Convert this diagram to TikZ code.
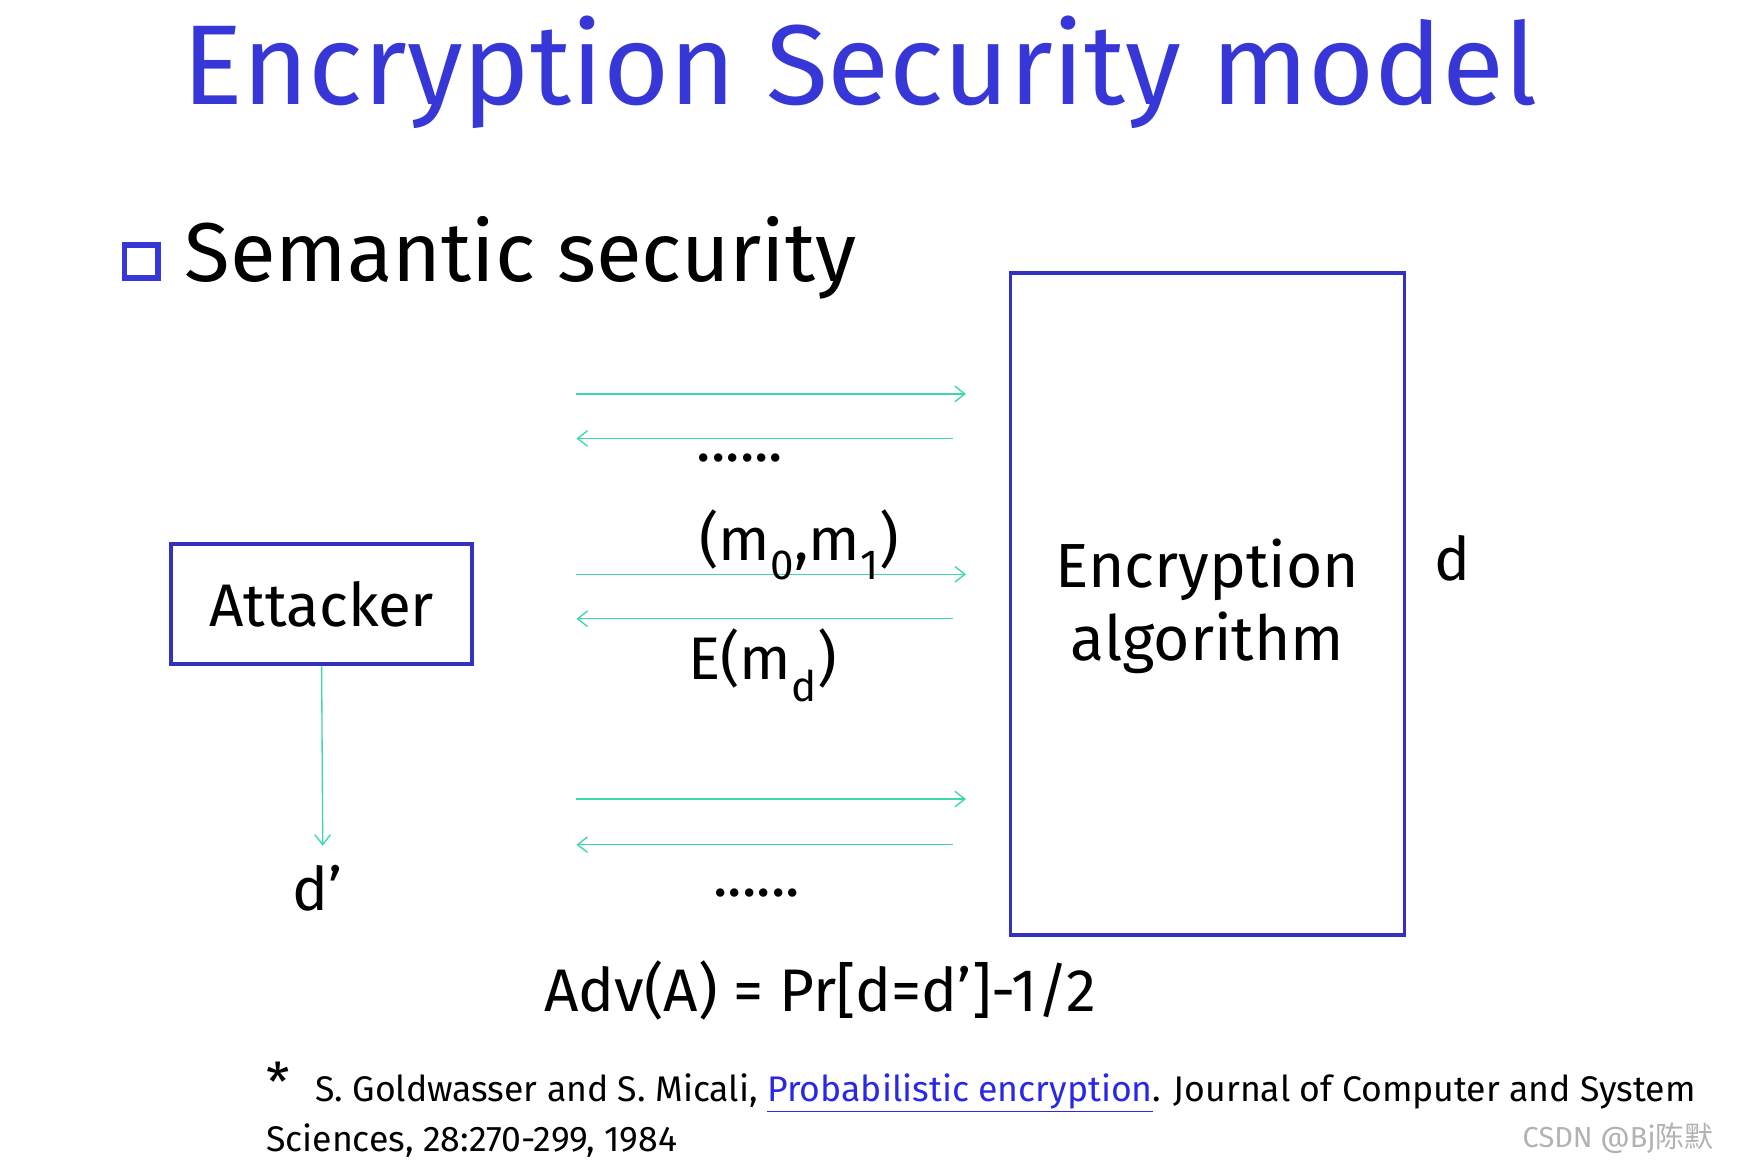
\documentclass[tikz,border=0pt]{standalone}
\usetikzlibrary{arrows.meta}
\usepackage{fontspec}
\setmainfont{Fira Sans}
\newfontfamily\cjk{Noto Sans CJK SC}
\definecolor{tblue}{RGB}{55,55,215}
\definecolor{bblue}{RGB}{50,50,190}
\definecolor{teal1}{RGB}{60,215,175}
\definecolor{lnk}{RGB}{40,40,230}
\begin{document}
\begin{tikzpicture}[x=1pt,y=-1pt,
  box/.style={draw=bblue,line width=3.5pt},
  arr/.style={draw=teal1,line width=1.2pt,-{Straight Barb[length=9pt,width=14pt]}},
  txt/.style={inner sep=0pt,font=\fontsize{54}{64}\selectfont}]
\useasboundingbox (0,0) rectangle (1568,1050);
\node[inner sep=0pt,text=tblue,font=\fontsize{102}{110}\selectfont] (title) at (773,65) {Encryption Security model};
\node[draw=tblue,line width=5pt,minimum size=30pt,inner sep=0pt] (bul) at (127,235) {};
\node[anchor=west,inner sep=0pt,font=\fontsize{75}{85}\selectfont] (sem) at (166,232) {Semantic security};
\draw[box] (908,245) rectangle (1262,840);
\node[txt,align=center,font=\fontsize{56}{66}\selectfont] (enc) at (1085,545) {Encryption\\algorithm};
\node[box,minimum width=270pt,minimum height=108pt,inner sep=0pt,txt] (att) at (289,543) {Attacker};
\coordinate (a1s) at (518,354); \coordinate (a1e) at (868,354);
\coordinate (a2s) at (856,394); \coordinate (a2e) at (518,394);
\coordinate (a3s) at (518,516); \coordinate (a3e) at (868,516);
\coordinate (a4s) at (856,556); \coordinate (a4e) at (518,556);
\coordinate (a5s) at (518,718); \coordinate (a5e) at (868,718);
\coordinate (a6s) at (856,759); \coordinate (a6e) at (518,759);
\draw[arr] (a1s) -- (a1e); \draw[arr] (a2s) -- (a2e);
\draw[arr] (a3s) -- (a3e); \draw[arr] (a4s) -- (a4e);
\draw[arr] (a5s) -- (a5e); \draw[arr] (a6s) -- (a6e);
\node[txt] (dots1) at (665,412) {......};
\node[txt] (dots2) at (680,802) {......};
\node[txt] (m) at (718,490) {(m$_{\mathrm{0}}$,m$_{\mathrm{1}}$)};
\node[txt] (e) at (685,598) {E(m$_{\mathrm{d}}$)};
\node[txt] (d) at (1305,502) {d};
\node[txt] (dp) at (285,798) {d’};
\coordinate (dpt) at (290,760);
\draw[arr] (att.south) -- (dpt);
\node[txt] (adv) at (737,890) {Adv(A) = Pr[d=d’]-1/2};
\node[inner sep=0pt,font=\fontsize{48}{48}\selectfont] (star) at (250,972) {*};
\node[anchor=west,inner sep=0pt,font=\fontsize{32}{36}\selectfont] (ref1) at (283,982) {S. Goldwasser and S. Micali, {\color{lnk}\underline{Probabilistic encryption}}. Journal of Computer and System};
\node[anchor=west,inner sep=0pt,font=\fontsize{32}{36}\selectfont] (ref2) at (239,1025) {Sciences, 28:270-299, 1984};
\node[anchor=west,inner sep=0pt,text=black!30,font=\fontsize{26}{30}\selectfont] (wm) at (1368,1023) {CSDN @Bj{\cjk 陈默}};
\end{tikzpicture}
\end{document}
